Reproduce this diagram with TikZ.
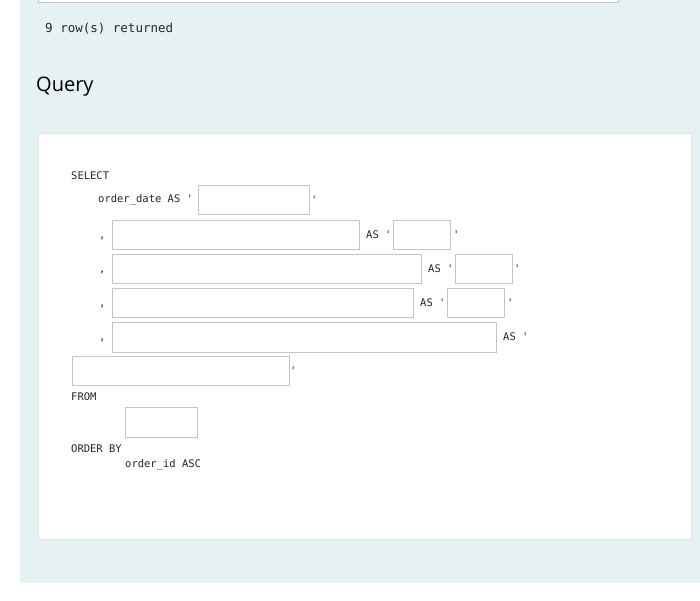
\documentclass[tikz,border=0pt]{standalone}
\usepackage{fontspec}
\setmainfont{DejaVu Sans}
\setmonofont{DejaVu Sans Mono}
\newfontfamily\qfont{Open Sans}
\definecolor{panel}{HTML}{E6F1F4}
\definecolor{bord}{HTML}{C4C4C4}
\begin{document}
\begin{tikzpicture}[x=1pt,y=-1pt,
  fld/.style={draw=bord,line width=0.8pt,fill=white},
  lab/.style={anchor=west,inner sep=0pt,font=\ttfamily\fontsize{10.5}{12}\selectfont,text=black!85}]
\useasboundingbox (0,0) rectangle (700,601);
\fill[white] (0,0) rectangle (700,601);
\fill[panel] (20,0) rectangle (700,583);
\draw[bord,fill=white] (38,-10) rectangle (618,2);
\draw[draw=black!10,fill=white] (38,133) rectangle (691,539);
\node[lab,font=\ttfamily\fontsize{12.5}{14}\selectfont] (rows) at (45,29) {9 row(s) returned};
\node[anchor=west,inner sep=0pt,font=\qfont\fontsize{20}{24}\selectfont] (q) at (36,87) {Query};
\node[lab] (sel) at (71,176) {SELECT};
\node[lab] (od) at (98,200) {order\_date AS '};
\draw[fld] (198,185) rectangle (309,214); \node[lab] (q0) at (311,200) {'};
% row1
\node[lab] (c1) at (99,238) {,};
\draw[fld] (112,220) rectangle (359,249);
\node[lab] (a1) at (366,235) {AS '};
\draw[fld] (393,220) rectangle (450,249); \node[lab] (q1) at (453,235) {'};
% row2
\node[lab] (c2) at (99,272) {,};
\draw[fld] (112,254) rectangle (421,283);
\node[lab] (a2) at (428,269) {AS '};
\draw[fld] (455,254) rectangle (512,283); \node[lab] (q2) at (514,269) {'};
% row3
\node[lab] (c3) at (99,306) {,};
\draw[fld] (112,288) rectangle (413,317);
\node[lab] (a3) at (420,303) {AS '};
\draw[fld] (447,288) rectangle (504,317); \node[lab] (q3) at (507,303) {'};
% row4
\node[lab] (c4) at (99,340) {,};
\draw[fld] (112,322) rectangle (496,352);
\node[lab] (a4) at (503,337) {AS '};
% row5
\draw[fld] (72,356) rectangle (289,385); \node[lab] (q5) at (290,371) {'};
\node[lab] (from) at (71,397) {FROM};
\draw[fld] (125,407) rectangle (197,437);
\node[lab] (ob) at (71,449) {ORDER BY};
\node[lab] (oid) at (125,465) {order\_id ASC};
\end{tikzpicture}
\end{document}
